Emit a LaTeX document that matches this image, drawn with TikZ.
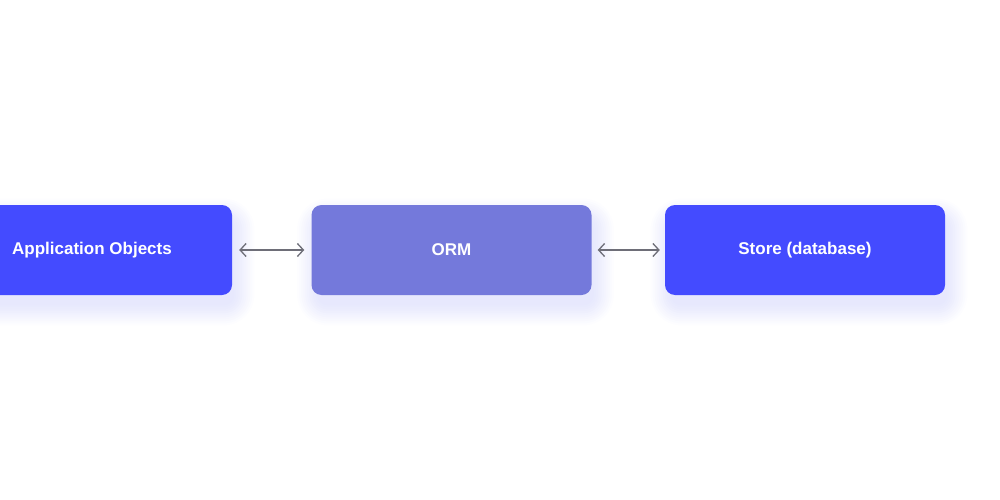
\documentclass[tikz,border=0pt]{standalone}
\usepackage{fontspec}
\setmainfont{Liberation Sans}
\usetikzlibrary{arrows.meta,backgrounds,calc}
\definecolor{boxblue}{HTML}{444BFF}
\definecolor{ormblue}{HTML}{7479DB}
\definecolor{arrgray}{HTML}{6E6E78}
\definecolor{shadowblue}{HTML}{6870F0}
\tikzset{
  box/.style={rounded corners=10pt, minimum width=280pt, minimum height=90pt,
    text=white, font=\fontsize{17}{20}\selectfont\bfseries, inner sep=0pt},
  arr/.style={draw=arrgray, line width=1.3pt,
    {Straight Barb[length=6pt,width=13pt]}-{Straight Barb[length=6pt,width=13pt]}},
  shadowlayer/.style={fill=shadowblue, fill opacity=0.014}
}
\begin{document}
\begin{tikzpicture}[x=1pt,y=-1pt]
\useasboundingbox (0,0) rectangle (1000,500);
\node[box, fill=boxblue] (app) at (92,250) {Application Objects};
\node[box, fill=ormblue] (orm) at (451.5,250) {ORM};
\node[box, fill=boxblue] (store) at (805,250) {Store (database)};
\begin{pgfonlayer}{background}
\foreach \n in {app,orm,store}{
  \foreach \i in {0,2,...,20}{
    \fill[shadowlayer, rounded corners={10pt+\i pt}]
      ($(\n.north west)+(6-\i,14-\i)$) rectangle ($(\n.south east)+(2+\i,10+\i)$);
  }
}
\end{pgfonlayer}
\draw[arr, shorten <=7pt, shorten >=7pt] (app) -- (orm);
\draw[arr, shorten <=6pt, shorten >=5pt] (orm) -- (store);
\end{tikzpicture}
\end{document}
